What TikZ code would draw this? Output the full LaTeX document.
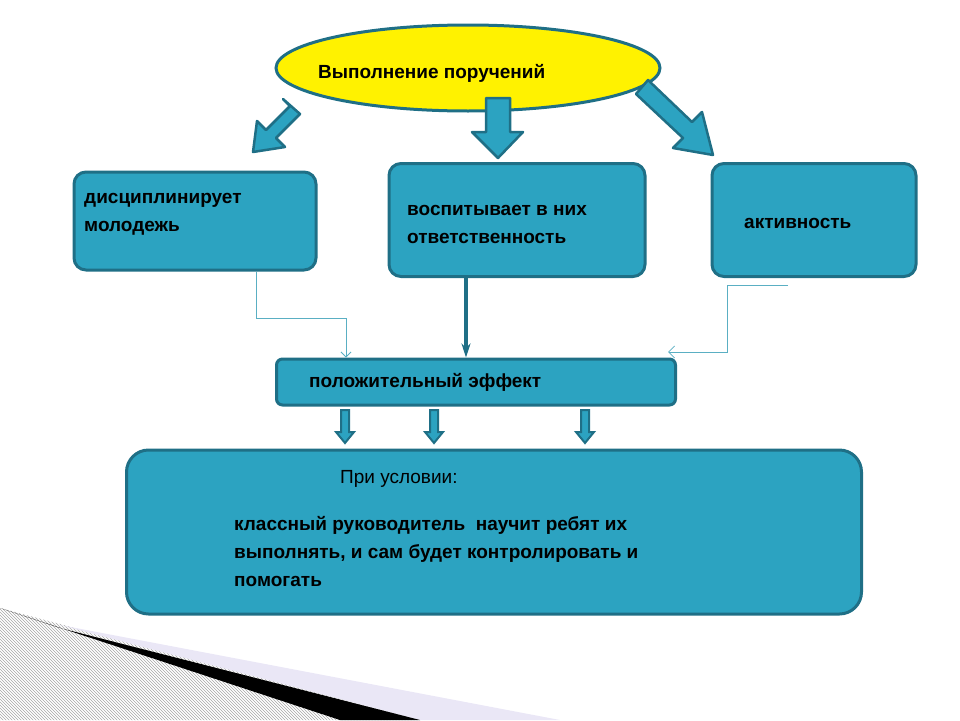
\documentclass[tikz,border=0pt]{standalone}
\usepackage{fontspec}
\setmainfont{Liberation Sans}
\usetikzlibrary{patterns,arrows.meta,shapes.geometric}
\definecolor{tfill}{HTML}{2CA3C1}
\definecolor{tdraw}{HTML}{1F6F86}
\definecolor{tline}{HTML}{5AAFC3}
\begin{document}
\begin{tikzpicture}[x=1pt,y=-1pt,
  box/.style={draw=tdraw,fill=tfill,line width=3pt,rounded corners=12pt},
  lbl/.style={anchor=west,font=\fontsize{19}{28}\selectfont\bfseries,align=left,inner sep=0},
  barrow/.style={draw=tdraw,fill=tfill,line width=2.5pt,line join=round},
  thin/.style={draw=tline,line width=0.8pt},
  small/.style={draw=tdraw,fill=tfill,line width=2pt}]
\useasboundingbox (0,0) rectangle (960,720);
% decoration
\fill[pattern=north west lines,pattern color=gray!70] (0,608) -- (420,720) -- (0,720) -- cycle;
\fill[cyan!10!blue!8] (60,625) -- (560,720) -- (420,720) -- cycle;
\fill[black] (0,608) -- (60,628) -- (420,720) -- (340,720) -- cycle;
% ellipse
\node[draw=tdraw,fill=yellow,line width=3pt,ellipse,minimum width=384,minimum height=86,inner sep=0] (top) at (468,68) {};
\node[lbl] (toplbl) at (318,73) {Выполнение поручений};
% block arrows
\draw[barrow] (283,99) -- (300,114) -- (276,138) -- (285,147) -- (253,152) -- (257,121) -- (266,130) -- (290,106) -- cycle;
\draw[barrow] (486,98) -- (510,98) -- (510,132) -- (523,132) -- (498,158) -- (472,132) -- (486,132) -- cycle;
\draw[barrow] (648,80) -- (692,122) -- (702,112) -- (713,155) -- (673,148) -- (683,138) -- (636,94) -- cycle;
% boxes
\node[box,minimum width=242,minimum height=98] (b1) at (195,221) {};
\node[lbl] at (84,214) {дисциплинирует\\молодежь};
\node[box,minimum width=256,minimum height=113] (b2) at (517,220) {};
\node[lbl] at (407,224) {воспитывает в них\\ответственность};
\node[box,minimum width=204,minimum height=113] (b3) at (814,220) {};
\node[lbl] at (744,223) {активность};
\node[box,minimum width=399,minimum height=46,rounded corners=6pt] (b4) at (476,382) {};
\node[lbl] at (309,382) {положительный эффект};
\node[box,minimum width=735,minimum height=164,rounded corners=22pt] (b5) at (494,532) {};
\node[lbl,font=\fontsize{19}{28}\selectfont] at (340,479) {При условии:};
\node[lbl] at (234,552) {классный руководитель\ \ научит ребят их\\выполнять, и сам будет контролировать и\\помогать};
% connectors
\draw[thin,-{Straight Barb[length=5pt]}] ([xshift=61pt]b1.south) -- (256,318) -- (346,318) -- ([xshift=-130pt]b4.north);
\coordinate (c3) at (788,285);
\draw[thin,-{Straight Barb[length=6pt]}] (c3) -- (727,285) -- (727,352) -- (668,352);
\draw[draw=tdraw,line width=4pt,-{Stealth[length=14pt,width=9pt]}] ([xshift=-51pt]b2.south) -- ([xshift=-10pt]b4.north);
\foreach \x in {345,434,585}{
  \draw[small] (\x-4,410) -- (\x+4,410) -- (\x+4,432) -- (\x+9,432) -- (\x,443) -- (\x-9,432) -- (\x-4,432) -- cycle;}
\end{tikzpicture}
\end{document}
